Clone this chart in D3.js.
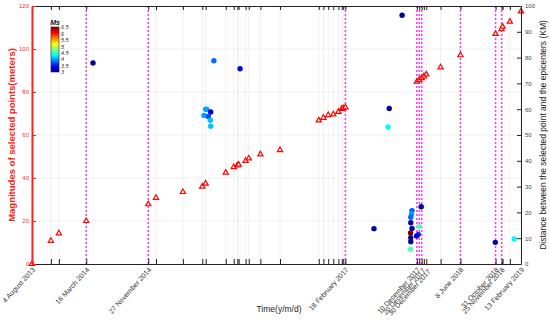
<!DOCTYPE html>
<html>
<head>
<meta charset="utf-8">
<script src="https://cdn.jsdelivr.net/npm/d3@7"></script>
<style>
    body { margin: 0; background: #fff; }
    svg { display: block; font-family: "Liberation Sans", Arial, sans-serif; }
</style>
</head>
<body>
<svg id="chart"></svg>
<script>
// dates of the observations (ticks on the time axis) and the magnitudes of the selected points
var eventDates = ["2013-08-04", "2013-10-21", "2013-11-23", "2014-03-16", "2014-11-27", "2014-12-29",
    "2015-04-19", "2015-07-08", "2015-07-22", "2015-10-13", "2015-11-15", "2015-11-30", "2015-12-05",
    "2016-01-03", "2016-01-16", "2016-03-04", "2016-05-24", "2016-10-31", "2016-11-19", "2016-12-09",
    "2016-12-30", "2017-01-20", "2017-02-03", "2017-02-09", "2017-02-18", "2017-12-10", "2017-12-20",
    "2017-12-30", "2018-01-08", "2018-01-18", "2018-03-18", "2018-06-08", "2018-10-31", "2018-11-25",
    "2018-11-29", "2018-12-29", "2019-02-13"];
var magnitudes = [0, 10.8, 14.3, 20, 27.8, 30.8,
    33.5, 36, 37.4, 42.5, 45.1, 45.9, 46.2,
    48, 49.1, 51, 53, 66.8, 68, 69.3,
    69.6, 70.8, 72.2, 72.5, 72.9, 84.8, 85.6,
    86.5, 87.3, 88.2, 91.5, 97.1, 107, 109.3,
    110.4, 112.7, 117.5];

// earthquakes: date, distance to the selected point (km) and Ms
var quakeDates = ["2014-04-13", "2015-08-25", "2015-12-11", "2015-07-22", "2015-07-27", "2015-07-15",
    "2015-08-12", "2015-08-02", "2015-08-10", "2015-08-12", "2017-10-10", "2017-08-18", "2017-08-13",
    "2017-06-16", "2017-11-20", "2017-11-18", "2017-11-15", "2017-11-15", "2017-11-20", "2017-11-14",
    "2017-11-15", "2017-11-15", "2017-11-14", "2017-12-28", "2017-12-19", "2017-12-16", "2017-12-09",
    "2018-10-30", "2019-01-16"];
var quakeDistances = [77.9, 78.8, 75.7, 60, 59.9, 57.6,
    58.9, 57.2, 55.7, 53.4, 96.4, 60.3, 53.1,
    13.7, 20.7, 19.4, 18.1, 16, 13.8, 12,
    10.2, 8.6, 5.7, 22.2, 14.5, 11.5, 10.9,
    8.4, 9.7];
var quakeMs = [3.1, 3.8, 3.3, 4, 4, 4,
    3.2, 3.7, 4.1, 4.1, 3.1, 3.1, 4.3,
    3.1, 3.75, 4, 3.8, 3.1, 3.1, 6.5,
    3.1, 3.1, 4.6, 3.1, 4.6, 3.6, 3.3,
    3.1, 4.3];

// dates that get a label and a dotted marker line
var labelDates = ["2013-08-04", "2014-03-16", "2014-11-27", "2017-02-18", "2017-12-10", "2017-12-20",
    "2017-12-30", "2018-06-08", "2018-10-31", "2018-11-25", "2019-02-13"];
var markerDates = ["2014-03-16", "2014-11-27", "2017-02-18", "2017-12-10", "2017-12-20",
    "2017-12-30", "2018-06-08", "2018-10-31", "2018-11-25"];

var leftTicks = [0, 20, 40, 60, 80, 100, 120];
var rightTicks = [0, 10, 20, 30, 40, 50, 60, 70, 80, 90, 100];
var msTicks = [3, 3.5, 4, 4.5, 5, 5.5, 6, 6.5];

var parseDate = d3.timeParse("%Y-%m-%d");
var formatLabel = d3.timeFormat("%-d %B %Y");

var margin = { top: 6, right: 29, bottom: 56, left: 32 };
var fullWidth = 550, fullHeight = 320;
var width = fullWidth - margin.left - margin.right;
var height = fullHeight - margin.top - margin.bottom;

var events = eventDates.map(function (d, i) { return { date: parseDate(d), value: magnitudes[i] }; });
var quakes = quakeDates.map(function (d, i) {
    return { date: parseDate(d), distance: quakeDistances[i], ms: quakeMs[i] };
});

var x = d3.scaleTime()
    .domain([parseDate("2013-08-04"), parseDate("2019-02-13")])
    .range([0, width]);
var yLeft = d3.scaleLinear().domain([0, 120]).range([height, 0]);
var yRight = d3.scaleLinear().domain([0, 100]).range([height, 0]);

// jet colour map for Ms
var jet = d3.scaleLinear()
    .domain([3, 3.4375, 4.3125, 5.1875, 6.0625, 6.5])
    .range(["#00007f", "#0000ff", "#00ffff", "#ffff00", "#ff0000", "#7f0000"])
    .clamp(true);

var svg = d3.select("#chart")
    .attr("width", fullWidth)
    .attr("height", fullHeight);

svg.append("rect").attr("width", fullWidth).attr("height", fullHeight).attr("fill", "#fff");

var g = svg.append("g")
    .attr("transform", "translate(" + margin.left + "," + margin.top + ")");

// grid lines
g.append("g")
    .selectAll("line.hgrid")
    .data(leftTicks.slice(1, -1))
    .enter().append("line")
    .attr("x1", 0).attr("x2", width)
    .attr("y1", function (d) { return yLeft(d); })
    .attr("y2", function (d) { return yLeft(d); })
    .attr("stroke", "#ebebeb").attr("stroke-width", 0.7);

g.append("g")
    .selectAll("line.vgrid")
    .data(events)
    .enter().append("line")
    .attr("x1", function (d) { return x(d.date); })
    .attr("x2", function (d) { return x(d.date); })
    .attr("y1", 0).attr("y2", height)
    .attr("stroke", "#ebebeb").attr("stroke-width", 0.7);

// dotted marker lines
g.append("g")
    .selectAll("line")
    .data(markerDates.map(parseDate))
    .enter().append("line")
    .attr("x1", function (d) { return x(d); })
    .attr("x2", function (d) { return x(d); })
    .attr("y1", 0).attr("y2", height)
    .attr("stroke", "#f040f0")
    .attr("stroke-width", 1.5)
    .attr("stroke-dasharray", "2,2");

// magnitudes (open triangles)
g.append("g")
    .selectAll("path")
    .data(events)
    .enter().append("path")
    .attr("d", d3.symbol().type(d3.symbolTriangle).size(12))
    .attr("transform", function (d) { return "translate(" + x(d.date) + "," + yLeft(d.value) + ")"; })
    .attr("fill", "#fff")
    .attr("stroke", "#ff0000")
    .attr("stroke-width", 1.2);

// earthquakes (circles coloured by Ms)
g.append("g")
    .selectAll("circle")
    .data(quakes)
    .enter().append("circle")
    .attr("cx", function (d) { return x(d.date); })
    .attr("cy", function (d) { return yRight(d.distance); })
    .attr("r", 2.7)
    .attr("fill", function (d) { return jet(d.ms); });

// top border with ticks
var topAxis = g.append("g")
    .call(d3.axisTop(x).tickValues(events.map(function (d) { return d.date; }))
        .tickSizeInner(-4).tickSizeOuter(0).tickFormat(""));
topAxis.select(".domain").attr("stroke", "#222").attr("stroke-width", 1.2);
topAxis.selectAll("line").attr("stroke", "#222");

// bottom axis ticks
var bottomAxis = g.append("g")
    .attr("transform", "translate(0," + height + ")")
    .call(d3.axisBottom(x).tickValues(events.map(function (d) { return d.date; }))
        .tickSizeInner(-5).tickSizeOuter(0).tickFormat(""));
bottomAxis.select(".domain").attr("stroke", "#222").attr("stroke-width", 1.2);
bottomAxis.selectAll("line").attr("stroke", "#222");

// bottom axis labels, rotated; nudge crowded labels apart a little
var labelAxis = g.append("g")
    .attr("transform", "translate(0," + height + ")")
    .call(d3.axisBottom(x).tickValues(labelDates.map(parseDate))
        .tickSize(0).tickFormat(formatLabel));
labelAxis.select(".domain").remove();

var lastPos = -100, shift = 0;
labelAxis.selectAll("text")
    .attr("y", 0)
    .attr("x", 0)
    .attr("dy", 0)
    .attr("transform", function (d) {
        var pos = x(d);
        shift = (pos - lastPos < 6) ? shift + 3 : 0;
        lastPos = pos;
        return "translate(" + (3 + shift) + "," + (6 + shift * 0.3) + ") rotate(-48)";
    })
    .style("text-anchor", "end")
    .attr("fill", "#333")
    .style("font-size", "7px");

// left axis (red)
var leftAxis = g.append("g")
    .call(d3.axisRight(yLeft).tickValues(leftTicks).tickSizeInner(4).tickSizeOuter(0));
leftAxis.select(".domain").attr("stroke", "#ff2020").attr("stroke-width", 2);
leftAxis.selectAll("line").attr("stroke", "#ff2020");
leftAxis.selectAll("text")
    .attr("x", -3)
    .style("text-anchor", "end")
    .attr("fill", "#ff3030")
    .style("font-size", "6px");

// right axis
var rightAxis = g.append("g")
    .attr("transform", "translate(" + width + ",0)")
    .call(d3.axisRight(yRight).tickValues(rightTicks).tickSizeInner(-4).tickSizeOuter(0).tickPadding(4));
rightAxis.select(".domain").attr("stroke", "#222");
rightAxis.selectAll("line").attr("stroke", "#222");
rightAxis.selectAll("text")
    .attr("x", 4)
    .attr("fill", "#444")
    .style("font-size", "6px");

// axis titles
svg.append("text")
    .attr("transform", "translate(15," + (margin.top + height / 2) + ") rotate(-90)")
    .attr("text-anchor", "middle")
    .attr("fill", "#ff2020")
    .style("font-size", "9.5px")
    .style("font-weight", "bold")
    .text("Magnitudes of selected points(meters)");

svg.append("text")
    .attr("transform", "translate(546," + (margin.top + height / 2) + ") rotate(-90)")
    .attr("text-anchor", "middle")
    .attr("fill", "#222")
    .style("font-size", "8.5px")
    .text("Distance between the selected point and the epicenters (KM)");

svg.append("text")
    .attr("x", 279)
    .attr("y", 312)
    .attr("text-anchor", "middle")
    .attr("fill", "#222")
    .style("font-size", "8.5px")
    .text("Time(y/m/d)");

// colour bar for Ms
var barX = 51, barTop = 27, barW = 8, barH = 45;
var msScale = d3.scaleLinear().domain([3, 6.5]).range([barTop + barH, barTop]);

var grad = svg.append("defs").append("linearGradient")
    .attr("id", "jetGrad")
    .attr("x1", 0).attr("y1", 1).attr("x2", 0).attr("y2", 0);
grad.selectAll("stop")
    .data(jet.domain())
    .enter().append("stop")
    .attr("offset", function (d) { return (d - 3) / 3.5; })
    .attr("stop-color", function (d) { return jet(d); });

svg.append("rect")
    .attr("x", barX).attr("y", barTop)
    .attr("width", barW).attr("height", barH)
    .attr("fill", "url(#jetGrad)")
    .attr("stroke", "#222")
    .attr("stroke-width", 0.6);

var msAxis = svg.append("g")
    .attr("transform", "translate(" + (barX + barW) + ",0)")
    .call(d3.axisRight(msScale).tickValues(msTicks).tickSize(0).tickPadding(2).tickFormat(d3.format("")));
msAxis.select(".domain").remove();
msAxis.selectAll("text")
    .attr("fill", "#333")
    .style("font-size", "5.5px")
    .style("font-style", "italic");

svg.append("text")
    .attr("x", barX + barW / 2)
    .attr("y", barTop - 2)
    .attr("text-anchor", "middle")
    .attr("fill", "#111")
    .style("font-size", "7px")
    .style("font-weight", "bold")
    .style("font-style", "italic")
    .text("Ms");
</script>
</body>
</html>
